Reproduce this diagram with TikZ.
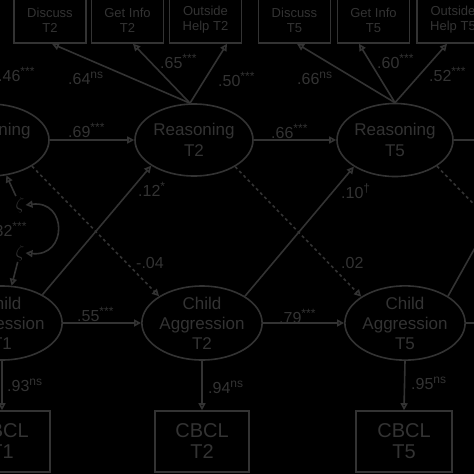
\documentclass[tikz,border=0pt]{standalone}
\usepackage{fontspec}
\setmainfont{Liberation Sans}
\usetikzlibrary{arrows.meta,shapes.geometric,calc}
\definecolor{ink}{HTML}{333333}
\newcommand\sups[1]{\raisebox{6pt}{\fontsize{12}{12}\selectfont #1}}
\begin{document}
\begin{tikzpicture}[x=1pt,y=-1pt,
  every node/.style={text=ink},
  lat/.style={draw=ink,line width=1.6pt,ellipse,inner sep=0pt,align=center,font=\fontsize{17}{21}\selectfont},
  ind/.style={draw=ink,line width=1.6pt,rectangle,inner sep=0pt,minimum width=72pt,minimum height=46pt,align=center,font=\fontsize{13}{15}\selectfont},
  cbcl/.style={draw=ink,line width=1.6pt,rectangle,inner sep=0pt,minimum height=61pt,align=center,font=\fontsize{20}{21}\selectfont},
  arr/.style={draw=ink,line width=1.6pt,-{Triangle[open,length=7pt,width=7pt]}},
  darr/.style={arr,dash pattern=on 3pt off 3pt},
  dbl/.style={draw=ink,line width=1.6pt,{Triangle[open,length=7pt,width=7pt]}-{Triangle[open,length=7pt,width=7pt]}},
  coef/.style={anchor=base west,inner sep=0pt,font=\fontsize{16}{16}\selectfont},
  zeta/.style={inner sep=1pt,font=\fontsize{18}{18}\selectfont},
]
\useasboundingbox (0,0) rectangle (474,474);
\fill[black] (0,0) rectangle (474,474);
\clip (0,0) rectangle (474,474);

% latent variables
\node[lat,minimum width=118pt,minimum height=72pt] (rt1) at (-10,140) {Reasoning\\T1};
\node[lat,minimum width=118pt,minimum height=72pt] (rt2) at (194,140) {Reasoning\\T2};
\node[lat,minimum width=116pt,minimum height=73pt] (rt5) at (395,140) {Reasoning\\T5};
\node[lat,minimum width=116pt,minimum height=68pt,font=\fontsize{17}{20}\selectfont] (at1) at (2,323) {Child\\Aggression\\T1};
\node[lat,minimum width=114pt,minimum height=68pt,font=\fontsize{17}{20}\selectfont] (at2) at (202,323) {Child\\Aggression\\T2};
\node[lat,minimum width=116pt,minimum height=68pt,font=\fontsize{17}{20}\selectfont] (at5) at (405,323) {Child\\Aggression\\T5};

% indicators
\node[ind] (d2) at (50,20) {Discuss\\T2};
\node[ind] (g2) at (127.5,20) {Get Info\\T2};
\node[ind] (o2) at (205.5,20) {Outside\\Help T2};
\node[ind] (d5) at (294.5,20) {Discuss\\T5};
\node[ind] (g5) at (373.5,20) {Get Info\\T5};
\node[ind] (o5) at (453,20) {Outside\\Help T5};

\node[cbcl,minimum width=96pt] (c1) at (2,441.5) {CBCL\\T1};
\node[cbcl,minimum width=94pt] (c2) at (202,441.5) {CBCL\\T2};
\node[cbcl,minimum width=96pt] (c5) at (404,441.5) {CBCL\\T5};

% disturbances
\node[zeta] (z1) at (20,205) {$\zeta$};
\node[zeta] (z2) at (20,253) {$\zeta$};

% off-canvas continuations
\coordinate (rt6) at (540,140);
\coordinate (at6) at (548,323);
\coordinate (rt6b) at (505,194);
\coordinate (at6b) at (565,298);

% loadings
\draw[arr] ([xshift=-4pt]rt2.north) -- ([xshift=2pt]d2.south);
\draw[arr] ([xshift=-4pt]rt2.north) -- ([xshift=5.5pt]g2.south);
\draw[arr] ([xshift=-4pt]rt2.north) -- ([xshift=21.5pt]o2.south);
\draw[arr] (rt5.north) -- ([xshift=2.5pt]d5.south);
\draw[arr] (rt5.north) -- ([xshift=-14.5pt]g5.south);
\draw[arr] (rt5.north) -- ([xshift=-6pt]o5.south);
\draw[arr] (at1.south) -- (c1.north);
\draw[arr] (at2.south) -- (c2.north);
\draw[arr] (at5.south) -- (c5.north);

% stability paths
\draw[arr] (rt1.east) -- (rt2.west);
\draw[arr] (rt2.east) -- (rt5.west);
\draw[arr] (rt5.east) -- (rt6);
\draw[arr] (at1.east) -- (at2.west);
\draw[arr] (at2.east) -- (at5.west);
\draw[arr] (at5.east) -- (at6);

% cross-lagged paths
\draw[arr] (at1.35) -- (rt2.211);
\draw[arr] (at2.32) -- (rt5.213);
\draw[draw=ink,line width=1.6pt] (at5.32) -- (rt6b);
\draw[darr] (rt1.-32) -- (at2.148);
\draw[darr] (rt2.-33) -- (at5.149);
\draw[darr] (rt5.-32) -- (at6b);

% disturbances
\draw[arr] (z1) -- (rt1);
\draw[arr] (z2) -- (at1);
\draw[dbl] (z1.east) .. controls +(42,-5) and +(42,4) .. (z2.east);

% coefficients
\node[coef] at (-2,81) {.46\sups{***}};
\node[coef] at (68,84) {.64\sups{ns}};
\node[coef] at (160,68) {.65\sups{***}};
\node[coef] at (218,86) {.50\sups{***}};
\node[coef] at (297,84) {.66\sups{ns}};
\node[coef] at (377,68) {.60\sups{***}};
\node[coef] at (429,81) {.52\sups{***}};
\node[coef] at (68,137) {.69\sups{***}};
\node[coef] at (271,138) {.66\sups{***}};
\node[coef] at (138,196) {.12\sups{*}};
\node[coef] at (341,198) {.10\sups{†}};
\node[coef] at (136,268) {-.04};
\node[coef] at (341,268) {.02};
\node[coef] at (77,321) {.55\sups{***}};
\node[coef] at (279,323) {.79\sups{***}};
\node[coef] at (7,391) {.93\sups{ns}};
\node[coef] at (208,393) {.94\sups{ns}};
\node[coef] at (411,389) {.95\sups{ns}};
\node[coef] at (-10,236) {.32\sups{***}};
\end{tikzpicture}
\end{document}
